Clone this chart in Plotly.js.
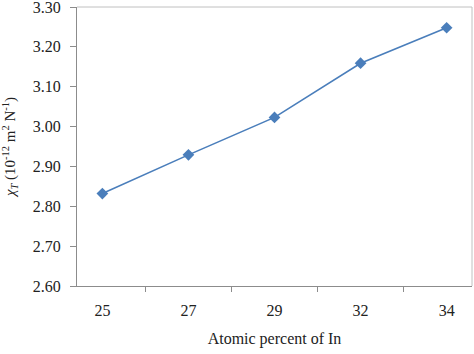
<!DOCTYPE html>
<html>
<head>
<meta charset="utf-8">
<script src="https://cdn.plot.ly/plotly-3.0.1.min.js"></script>
<style>html,body{margin:0;padding:0;background:#fff;}#chart{width:474px;height:354px;}</style>
</head>
<body>
<div id="chart"></div>
<script>
const categories = ["25", "27", "29", "32", "34"];
const values = [2.832, 2.929, 3.023, 3.159, 3.248];
const yTickVals = [2.60, 2.70, 2.80, 2.90, 3.00, 3.10, 3.20, 3.30];
const yTickText = ["2.60", "2.70", "2.80", "2.90", "3.00", "3.10", "3.20", "3.30"];

const font = {family: "Liberation Serif, Times New Roman, serif", color: "#222", size: 16};
const titleFont = {family: "Liberation Serif, Times New Roman, serif", color: "#222", size: 15};

Plotly.newPlot("chart", [{
  x: categories,
  y: values,
  type: "scatter",
  mode: "lines+markers",
  line: {color: "#4a7ebb", width: 1.6},
  marker: {symbol: "diamond", size: 9, color: "#4a7ebb"}
}], {
  width: 474, height: 354,
  margin: {l: 77, r: 2, t: 7, b: 68},
  paper_bgcolor: "#fff", plot_bgcolor: "#fff",
  showlegend: false,
  font: font,
  xaxis: {
    type: "category",
    tickson: "boundaries",
    ticks: "outside", ticklen: 5, tickcolor: "#8c8c8c",
    showline: true, linecolor: "#8c8c8c", linewidth: 1,
    showgrid: false, zeroline: false,
    tickfont: font,
    ticklabelstandoff: 10,
    title: {text: "Atomic percent of In", font: font, standoff: 14}
  },
  yaxis: {
    range: [2.60, 3.30],
    tickvals: yTickVals, ticktext: yTickText,
    ticks: "outside", ticklen: 6, tickcolor: "#8c8c8c",
    showline: true, linecolor: "#8c8c8c", linewidth: 1,
    showgrid: false, zeroline: false,
    tickfont: font,
    ticklabelstandoff: 6,
    ticklabeloverflow: "allow",
    title: {text: "<i>χ<sub>T</sub></i> (10<sup>-12</sup> m<sup>2</sup> N<sup>-1</sup>)", font: titleFont, standoff: 15}
  },
  shapes: [
    {type: "line", xref: "paper", yref: "paper", x0: 0, x1: 1, y0: 1, y1: 1, line: {color: "#c0c0c0", width: 1}},
    {type: "line", xref: "paper", yref: "paper", x0: 1, x1: 1, y0: 0, y1: 1, line: {color: "#c0c0c0", width: 1}}
  ]
}, {displayModeBar: false, staticPlot: true});
</script>
</body>
</html>
